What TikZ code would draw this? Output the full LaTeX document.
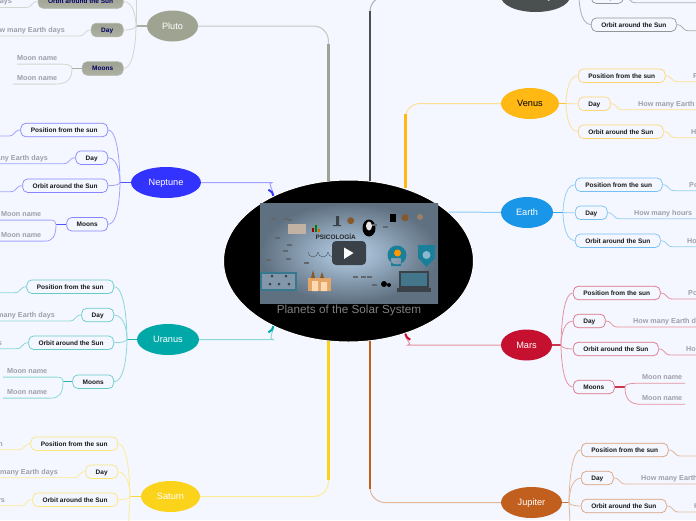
\documentclass[tikz,border=0pt]{standalone}
\usepackage{fontspec}
\setmainfont{Liberation Sans}
\usetikzlibrary{shapes.geometric,calc}
\definecolor{paper}{HTML}{F4F7FF}
\definecolor{notegray}{HTML}{9E9EA8}
\definecolor{plutoC}{HTML}{9FA392}
\definecolor{neptuneC}{HTML}{3333FF}
\definecolor{uranusC}{HTML}{00A8A8}
\definecolor{saturnC}{HTML}{FBD31B}
\definecolor{mercuryC}{HTML}{4A4F4F}
\definecolor{venusC}{HTML}{FFB814}
\definecolor{earthC}{HTML}{1A96E8}
\definecolor{marsC}{HTML}{C5102F}
\definecolor{jupiterC}{HTML}{C05F1E}
\definecolor{thumbIn}{HTML}{B8D2EA}
\definecolor{thumbOut}{HTML}{5F7080}
\definecolor{tealD}{HTML}{1A7F98}
\definecolor{inkD}{HTML}{3A4148}
\tikzset{
  planet/.style={ellipse,fill=#1,text=white,inner sep=0pt,minimum height=31pt,text height=6.6pt,text depth=0pt,font=\fontsize{9.2}{10}\selectfont},
  kidfill/.style={fill=paper},
  kid/.style={draw=#1!60!white,kidfill,rounded corners=5pt,line width=.7pt,inner xsep=10pt,inner ysep=0pt,
    minimum height=13.5pt,text height=4.7pt,text depth=0pt,text=black!90,font=\fontsize{6.5}{7}\selectfont\bfseries},
  note/.style={text=notegray,inner sep=0pt,text height=5.2pt,text depth=0pt,font=\fontsize{7.2}{8}\selectfont\bfseries},
  twig/.style={draw=#1!45!white,line width=.8pt},
  stub/.style={draw=#1!85!white,line width=1.1pt},
  stem/.style={draw=#1!45!white,line width=1pt,rounded corners=15pt},
  stemend/.style={draw=#1,line width=2.3pt}
}
% kids on the right of a planet: id/text/y/x of note/note
\newcommand\kidsR[4]{\foreach \id/\txt/\yy/\nx/\note in {#4}{
  \node[kid=#1,anchor=west] (\id) at (#3,\yy) {\txt};
  \path (\id.east) ++(12,6) coordinate (\id a);
  \coordinate (\id b) at (696,\yy+6);
  \node[note,anchor=west] (\id n) at (\nx,\yy-.3) {\note};
  \draw[twig=#1] (\id.east) .. controls +(7,0) and +(-7,0) .. (\id a) -- (\id b);
  \draw[twig=#1] (\id.west) .. controls (\id.west -| #2) and (#2) .. (#2);
}}
% the same, on the left of a planet
\newcommand\kidsL[4]{\foreach \id/\txt/\yy/\nx/\note in {#4}{
  \node[kid=#1,anchor=east] (\id) at (#3,\yy) {\txt};
  \path (\id.west) ++(-12,6) coordinate (\id a);
  \coordinate (\id b) at (0,\yy+6);
  \node[note,anchor=east] (\id n) at (\nx,\yy-.3) {\note};
  \draw[twig=#1] (\id.west) .. controls +(-7,0) and +(7,0) .. (\id a) -- (\id b);
  \draw[twig=#1] (\id.east) .. controls (\id.east -| #2) and (#2) .. (#2);
}}
% moon names: id/y/line from/line to/x of text
\newcommand\moonlines[3]{\foreach \id/\yy/\xa/\xb/\nx in {#3}{
  \node[note,anchor=west] (\id) at (\nx,\yy) {Moon name};
  \coordinate (\id a) at (\xa,\yy+6.7);
  \coordinate (\id b) at (\xb,\yy+6.7);
  \draw[twig=#1] (#2) .. controls ($(#2)!.7!(#2 |- \id a)$) and ($(\id a)!.7!(#2 |- \id a)$) .. (\id a) -- (\id b);
}}
\begin{document}
\begin{tikzpicture}[x=1pt,y=-1pt]
\useasboundingbox (0,0) rectangle (696,520);
\clip (0,0) rectangle (696,520);
\fill[paper] (0,0) rectangle (696,520);

% centre
\node[ellipse,fill=black,draw=white,line width=1pt,inner sep=0pt,minimum width=250pt,minimum height=162pt] (hub) at (348.5,261) {};
\node[inner color=thumbIn,outer color=thumbOut,minimum width=178pt,minimum height=100pt,inner sep=0pt] (thumb) at (349,253) {};
\node[text=black!85,inner sep=0pt,font=\fontsize{6.4}{7}\selectfont\bfseries] (psico) at (335.7,236.3) {PSICOLOGÍA};
\node[text=black!50,inner sep=0pt,font=\fontsize{11.7}{12}\selectfont] (title) at (349,310.5) {Planets of the Solar System};
% little pictures in the thumbnail
\fill[tealD!60!thumbOut] (260,272) rectangle (297,291);
\fill[thumbOut!60!thumbIn] (262,274) rectangle (295,289);
\foreach \x/\y in {272/276,286/276,270/284,279/284,289/284} \fill[inkD] (\x,\y) circle (1.5);
\fill[orange!40!brown!70] (308,278) rectangle (331,291);
\fill[orange!30!white] (312,281) rectangle (318,291) (321,282) rectangle (327,291);
\fill[brown!70!black] (311,278) -- (313,270) -- (315,278) -- cycle (320,278) -- (322,272) -- (324,278) -- cycle;
\fill[orange!20!gray!60] (288,224) rectangle (306,234);
\fill[red!60!black] (312,232) rectangle (314,228);
\fill[green!50!black] (315,232) rectangle (317,225);
\fill[orange!80!black] (318,232) rectangle (320,229);
\fill[inkD] (333,225) rectangle (341,226) (336,216) rectangle (339,225);
\fill[brown!70!black] (350.7,220.7) circle (3.5);
\fill[black] (369,228) ellipse (6.5 and 8.5);
\fill[white!80!gray] (369,226) ellipse (3 and 4.5);
\fill[black] (390,214) rectangle (396,222);
\fill[brown!70!black] (405,217.7) circle (3.5);
\fill[gray!60!brown] (420,217) circle (3);
\fill[tealD] (397,255) circle (9.5) (391,258) rectangle (401,266);
\fill[orange!80!yellow] (397.5,253) circle (3.5);
\fill[tealD] (418,245) -- (435,245) -- (435,258) -- (426.5,267) -- (418,258) -- cycle;
\fill[thumbIn!70!tealD] (426.5,255) circle (4);
\fill[inkD] (399,271) rectangle (429,288);
\fill[tealD!40!thumbOut] (401,273) rectangle (427,286);
\fill[inkD] (397,288) -- (431,288) -- (431,292) -- (397,292) -- cycle;
\fill[black] (384,284) circle (3) (389,285) circle (2);
\foreach \x/\y in {271/218,283/218,287/219,287/244,286/258,304/262,353/276,361/276,367/276,372/284,372/224,383/226,266/259,275/237,283/250}
  \fill[inkD!80] (\x,\y) rectangle +(5,2);
\draw[inkD,line width=.3pt] (308,252) arc (180:0:5) (318,252) arc (180:0:5) (328,252) arc (180:0:5);
\node[fill=inkD,rounded corners=4pt,minimum width=34pt,minimum height=24pt,inner sep=0pt] (play) at (349,253) {};
\fill[white] (344,247.5) -- (353.5,253) -- (344,259) -- cycle;

% Pluto
\node[planet=plutoC,minimum width=51pt] (pluto) at (172.5,26) {Pluto};
\coordinate (plutoT) at (136,26);
\coordinate (plutoTop) at (136,-12);
\draw[stem=plutoC!80!black] (pluto) -| (hub.104);
\draw[stemend=plutoC] (hub.104) -- ++(0,-137);
\draw[stub=plutoC] (pluto) -- (plutoT);
\draw[twig=plutoC] (plutoT) -- (plutoTop);
\begin{scope}[kidfill/.style={top color=plutoC,middle color=plutoC!70!black,bottom color=plutoC!85!white,draw=plutoC!80!white}]
\kidsL{plutoC}{plutoT}{123.5}{plOrb/\textcolor{blue!40!black}{Orbit around the Sun}/1.5/12/ays,plDay/\textcolor{blue!40!black}{Day}/30/65/w many Earth days}
\node[kid=plutoC,anchor=east,text=blue!40!black] (plMoo) at (123.5,68.5) {Moons};
\end{scope}
\coordinate (plutoH) at (72,68.5);
\draw[twig=plutoC] (plMoo.east) .. controls (plMoo.east -| plutoT) and (plutoT) .. (plutoT);
\draw[stub=plutoC] (plMoo) -- (plutoH);
\moonlines{plutoC}{plutoH}{plM1/57.4/60/17/17,plM2/77.4/55/13/17}

% Neptune
\node[planet=neptuneC,minimum width=70pt] (neptune) at (166,182.5) {Neptune};
\coordinate (neptuneT) at (120,182.5);
\coordinate (neptuneB) at (257,182.5);
\draw[stem=neptuneC] (neptune) -- (neptuneB) .. controls +(10,0) and +(0,-6) .. (hub.139);
\draw[stemend=neptuneC,line width=2pt] (hub.139) .. controls +(0,-3) and +(3,2) .. ++(-5,-6);
\draw[stub=neptuneC] (neptune) -- (neptuneT);
\kidsL{neptuneC}{neptuneT}{108}{nePos/Position from the sun/130/-5/,neDay/Day/157.7/48/any Earth days,neOrb/Orbit around the Sun/185.7/-5/}
\node[kid=neptuneC,anchor=east] (neMoo) at (108,224.3) {Moons};
\coordinate (neptuneH) at (56,224.3);
\draw[twig=neptuneC] (neMoo.east) .. controls (neMoo.east -| neptuneT) and (neptuneT) .. (neptuneT);
\draw[stub=neptuneC] (neMoo) -- (neptuneH);
\moonlines{neptuneC}{neptuneH}{neM1/213.4/50/0/1,neM2/234.4/45/0/1}

% Uranus
\node[planet=uranusC,minimum width=62pt] (uranus) at (168,339.5) {Uranus};
\coordinate (uranusT) at (127,339.5);
\coordinate (uranusB) at (258,339.5);
\draw[stem=uranusC] (uranus) -- (uranusB) .. controls +(10,0) and +(0,6) .. (hub.221);
\draw[stemend=uranusC,line width=2pt] (hub.221) .. controls +(0,3) and +(3,-2) .. ++(-5,6);
\draw[stub=uranusC] (uranus) -- (uranusT);
\kidsL{uranusC}{uranusT}{114}{urPos/Position from the sun/286.7/-5/,urDay/Day/315/55/many Earth days,urOrb/Orbit around the Sun/342.7/2/s}
\node[kid=uranusC,anchor=east] (urMoo) at (114,381.7) {Moons};
\coordinate (uranusH) at (63,381.7);
\draw[twig=uranusC] (urMoo.east) .. controls (urMoo.east -| uranusT) and (uranusT) .. (uranusT);
\draw[stub=uranusC] (urMoo) -- (uranusH);
\moonlines{uranusC}{uranusH}{urM1/370.4/57/3/7,urM2/391.4/51/3/7}

% Saturn
\node[planet=saturnC,minimum width=59pt] (saturn) at (170.5,496.5) {Saturn};
\coordinate (saturnT) at (130,496.5);
\coordinate (saturnEnd) at (128.5,524);
\draw[stem=saturnC] (saturn) -| (hub.256);
\draw[stemend=saturnC] (hub.256) -- ++(0,139);
\draw[stub=saturnC] (saturn) -- (saturnT);
\draw[twig=saturnC] (saturnT) -- (saturnEnd);
\kidsL{saturnC}{saturnT}{118}{saPos/Position from the sun/443.7/3/n,saDay/Day/471.7/58/many Earth days,saOrb/Orbit around the Sun/499.7/5/ys}

% Mercury
\node[planet=mercuryC,minimum width=69pt] (mercury) at (535.5,-3.5) {Mercury};
\coordinate (mercuryT) at (579,-3.5);
\draw[stem=mercuryC] (mercury) -| (hub.75);
\draw[stemend=mercuryC,line width=2.6pt] (hub.75) -- ++(0,-170);
\draw[stub=mercuryC] (mercury) -- (mercuryT);
\kidsR{mercuryC}{mercuryT}{591}{meDay/Day/-3.3/700/,meOrb/Orbit around the Sun/24.7/700/}

% Venus
\node[planet=venusC,minimum width=58pt,text=black] (venus) at (530,103.5) {Venus};
\coordinate (venusT) at (566,103.5);
\draw[stem=venusC] (venus) -| (hub.52);
\draw[stemend=venusC,line width=2.6pt] (hub.52) -- ++(0,-74);
\draw[stub=venusC] (venus) -- (venusT);
\kidsR{venusC}{venusT}{578}{vePos/Position from the sun/75.7/693/P,veDay/Day/103.7/638/How many Earth d,veOrb/Orbit around the Sun/131.7/691/H}

% Earth
\node[planet=earthC,minimum width=52pt] (earth) at (527,212.5) {Earth};
\coordinate (earthT) at (563,212.5);
\draw[draw=earthC!50!white,line width=1pt] (earth) -- (hub.26);
\draw[stub=earthC] (earth) -- (earthT);
\kidsR{earthC}{earthT}{575}{eaPos/Position from the sun/184.7/689/Po,eaDay/Day/212.7/634/How many hours,eaOrb/Orbit around the Sun/240.7/687/Ho}

% Mars
\node[planet=marsC,minimum width=51pt] (mars) at (526.5,345) {Mars};
\coordinate (marsT) at (561,345);
\coordinate (marsB) at (423,345);
\draw[stem=marsC] (mars) -- (marsB) .. controls +(-10,0) and +(0,6) .. (hub.-52);
\draw[stemend=marsC,line width=2pt] (hub.-52) .. controls +(0,3) and +(-3,-2) .. ++(5,6);
\draw[stub=marsC] (mars) -- (marsT);
\kidsR{marsC}{marsT}{573}{maPos/Position from the sun/293/688/Po,maDay/Day/321/633/How many Earth da,maOrb/Orbit around the Sun/349/686/Ho}
\node[kid=marsC,anchor=west] (maMoo) at (573,387) {Moons};
\coordinate (marsH) at (625,387);
\draw[twig=marsC] (maMoo.west) .. controls (maMoo.west -| marsT) and (marsT) .. (marsT);
\draw[stub=marsC] (maMoo) -- (marsH);
\moonlines{marsC}{marsH}{maM1/376.6/637/685/642,maM2/397.6/641/685/642}

% Jupiter
\node[planet=jupiterC,minimum width=61pt] (jupiter) at (531.5,502.5) {Jupiter};
\coordinate (jupiterT) at (569,502.5);
\coordinate (jupiterEnd) at (570,524);
\draw[stem=jupiterC] (jupiter) -| (hub.-75);
\draw[stemend=jupiterC,line width=2.6pt] (hub.-75) -- ++(0,148);
\draw[stub=jupiterC] (jupiter) -- (jupiterT);
\draw[twig=jupiterC] (jupiterT) -- (jupiterEnd);
\kidsR{jupiterC}{jupiterT}{581}{juPos/Position from the sun/450/700/,juDay/Day/478/641/How many Earth,juOrb/Orbit around the Sun/506/694/H}
\end{tikzpicture}
\end{document}
